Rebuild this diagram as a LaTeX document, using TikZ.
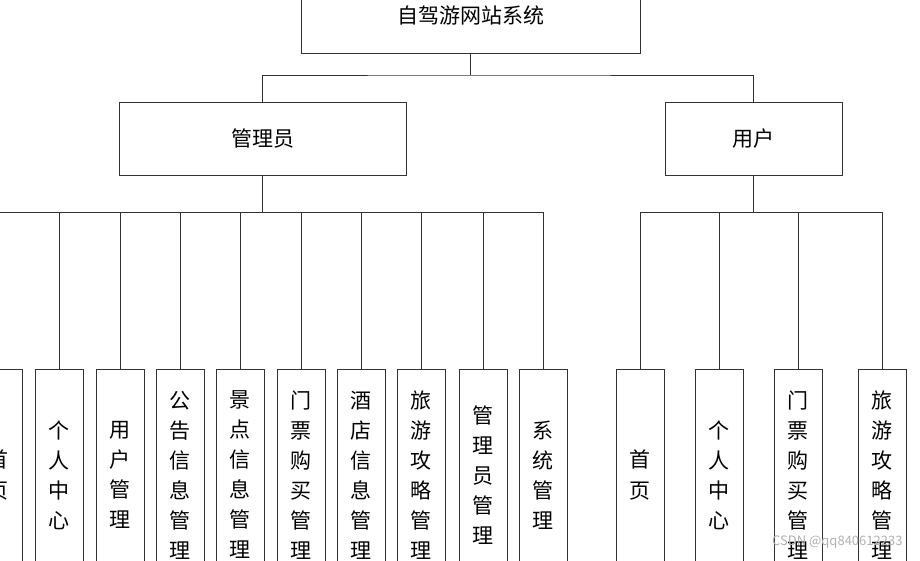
\documentclass[tikz,border=0pt]{standalone}
\usepackage{fontspec}
\setmainfont{Noto Sans CJK SC}
\begin{document}
\begin{tikzpicture}[x=1pt,y=-1pt,
  box/.style={draw=black!80,line width=0.7pt,fill=white,inner sep=0pt,font=\fontsize{21}{21}\selectfont},
  leaf/.style={box,minimum width=48pt,minimum height=212pt,align=center,font=\fontsize{21}{30}\selectfont},
  ln/.style={draw=black!80,line width=0.7pt}]
\useasboundingbox[fill=white] (0,0) rectangle (920,560);
\node[box,minimum width=339pt,minimum height=70pt] (root) at (470.5,18) {};
\node[font=\fontsize{21}{21}\selectfont] (roott) at (470.5,15) {自驾游网站系统};
\node[box,minimum width=287pt,minimum height=73pt] (admin) at (262.5,138.5) {管理员};
\node[box,minimum width=177pt,minimum height=73pt] (user) at (753.5,138.5) {用户};
\coordinate (j0) at (470.5,75);
\draw[ln] (root.south) -- (j0);
\draw[ln] (admin.north) |- (j0) -| (user.north);
% admin leaves
\coordinate (ja) at (262.5,212);
\draw[ln] (admin.south) -- (ja);
\foreach \n/\x/\t in {a0/-2/首\\页, a1/59/个\\人\\中\\心, a2/120/用\\户\\管\\理, a3/180/公\\告\\信\\息\\管\\理,
  a4/240/景\\点\\信\\息\\管\\理, a5/301/门\\票\\购\\买\\管\\理, a6/361/酒\\店\\信\\息\\管\\理,
  a7/421/旅\\游\\攻\\略\\管\\理, a8/483/管\\理\\员\\管\\理, a9/543/系\\统\\管\\理}{
  \node[leaf] (\n) at (\x,475) {\t};
  \coordinate (t\n) at (\x,212);
  \draw[ln] (t\n) -- (\n.north);
}
\draw[ln] (ta0) -- (ta9);
% user leaves
\coordinate (ju) at (753.5,212);
\draw[ln] (user.south) -- (ju);
\foreach \n/\x/\t in {u1/640/首\\页, u2/719/个\\人\\中\\心, u3/798/门\\票\\购\\买\\管\\理, u4/882/旅\\游\\攻\\略\\管\\理}{
  \node[leaf] (\n) at (\x,475) {\t};
  \coordinate (t\n) at (\x,212);
  \draw[ln] (t\n) -- (\n.north);
}
\draw[ln] (tu1) -- (tu4);
\node[text=black!30,font=\fontsize{13}{13}\selectfont,anchor=east] (wm) at (906,542) {CSDN @qq840612233};
\end{tikzpicture}
\end{document}
